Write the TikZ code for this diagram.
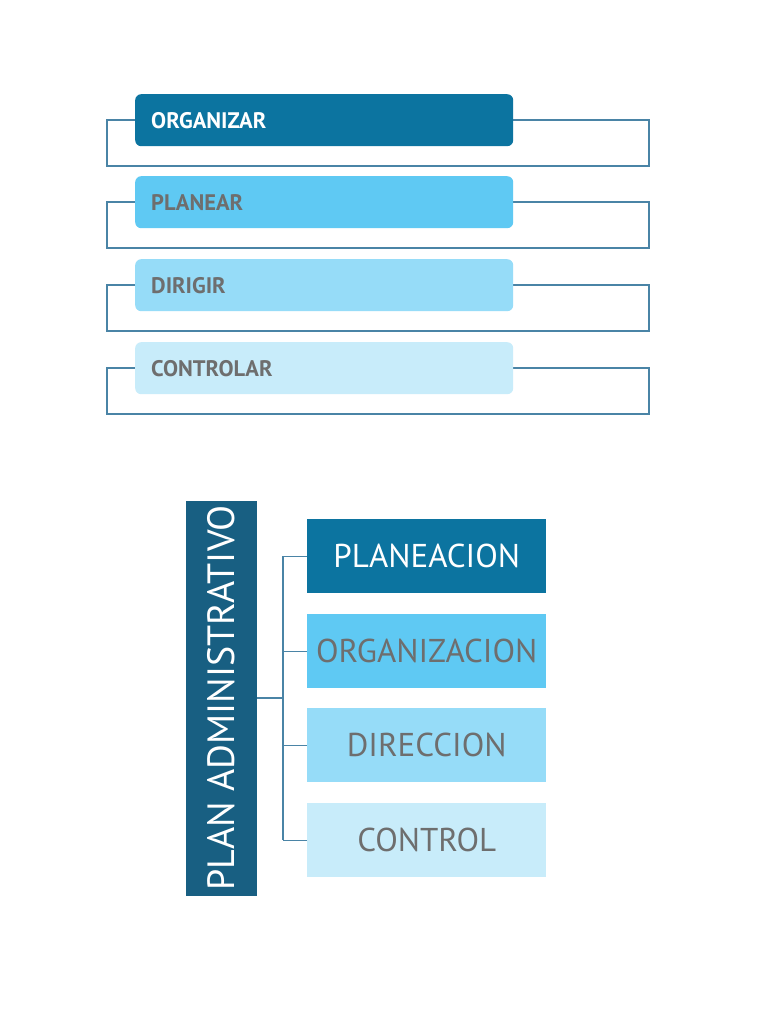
\documentclass[tikz,border=0pt]{standalone}
\usepackage{fontspec}
\setmainfont{PT Sans}
\usetikzlibrary{positioning}
\definecolor{azulosc}{HTML}{0C74A0}
\definecolor{azulmed}{HTML}{5FC9F3}
\definecolor{azulcla}{HTML}{96DCF8}
\definecolor{azulpal}{HTML}{C8ECFA}
\definecolor{barra}{HTML}{185F82}
\definecolor{gristx}{HTML}{6E6E6E}
\definecolor{linea}{HTML}{4A84A6}

\begin{document}
\begin{tikzpicture}[x=1pt, y=-1pt,
	paso/.style={rounded corners=6pt, minimum width=378pt, minimum height=52pt, inner xsep=16pt, text width=346pt, align=left, anchor=north west, font=\fontsize{22.5}{26}\selectfont\bfseries},
	funcion/.style={minimum width=239pt, minimum height=74pt, anchor=north west, font=\fontsize{33}{36}\selectfont},
	marco/.style={draw=linea, line width=1.2pt}]
		%%%%% START %%%%%
		\useasboundingbox (0, 0) rectangle (768, 1024);
		\fill[white] (0, 0) rectangle (768, 1024);
		
		% marcos detras de los pasos
		\draw[marco] (107, 120) rectangle (649, 166);
		\draw[marco] (107, 202) rectangle (649, 248);
		\draw[marco] (107, 285) rectangle (649, 331);
		\draw[marco] (107, 368) rectangle (649, 414);
		
		\node[paso, fill=azulosc, text=white] (organizar) at (135, 94) {ORGANIZAR};
		\node[paso, fill=azulmed, text=gristx] (planear) at (135, 176) {PLANEAR};
		\node[paso, fill=azulcla, text=gristx] (dirigir) at (135, 259) {DIRIGIR};
		\node[paso, fill=azulpal, text=gristx] (controlar) at (135, 342) {CONTROLAR};
		
		% plan administrativo
		\node[fill=barra, text=white, rotate=90, minimum width=395pt, minimum height=71pt, font=\fontsize{38}{42}\selectfont] (plan) at (221.5, 698) {PLAN ADMINISTRATIVO};
		
		\node[funcion, fill=azulosc, text=white] (planeacion) at (307, 519) {PLANEACION};
		\node[funcion, fill=azulmed, text=gristx] (organizacion) at (307, 614) {ORGANIZACION};
		\node[funcion, fill=azulcla, text=gristx] (direccion) at (307, 708) {DIRECCION};
		\node[funcion, fill=azulpal, text=gristx] (control) at (307, 803) {CONTROL};
		
		\coordinate (tronco) at (283, 698);
		\draw[marco] (plan.south) -- (tronco);
		\draw[marco] (tronco |- planeacion.west) -- (tronco |- control.west);
		\draw[marco] (tronco |- planeacion.west) -- (planeacion.west);
		\draw[marco] (tronco |- organizacion.west) -- (organizacion.west);
		\draw[marco] (tronco |- direccion.west) -- (direccion.west);
		\draw[marco] (tronco |- control.west) -- (control.west);
		
		%%%%% END %%%%%
	\end{tikzpicture}
\end{document}
